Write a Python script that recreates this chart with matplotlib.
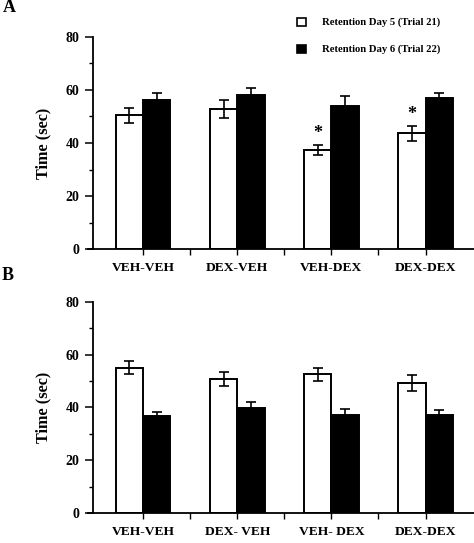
import matplotlib
matplotlib.use('Agg')
import matplotlib.pyplot as plt
import numpy as np

plt.rcParams['font.family'] = 'Liberation Serif'
plt.rcParams['font.weight'] = 'bold'

# data
groups_A = ['VEH-VEH', 'DEX-VEH', 'VEH-DEX', 'DEX-DEX']
groups_B = ['VEH-VEH', 'DEX- VEH', 'VEH- DEX', 'DEX-DEX']

day5_A = [50.5, 52.9, 37.3, 43.6]
day5_A_err = [2.8, 3.5, 1.9, 2.9]
day6_A = [56.2, 58.2, 54.1, 57.0]
day6_A_err = [2.6, 2.7, 3.5, 1.9]
star_A = [False, False, True, True]

day5_B = [55.0, 50.9, 52.5, 49.1]
day5_B_err = [2.4, 2.6, 2.3, 3.0]
day6_B = [36.8, 39.8, 37.3, 37.2]
day6_B_err = [1.6, 2.1, 2.0, 1.9]

legend_labels = ['Retention Day 5 (Trial 21)', 'Retention Day 6 (Trial 22)']

bar_w = 0.29
lw = 1.3


def draw_panel(ax, labels, v5, e5, v6, e6, stars=None):
    x = np.arange(len(labels))
    ax.bar(x - bar_w / 2, v5, bar_w, color='white', edgecolor='black', linewidth=1.4, zorder=2)
    ax.bar(x + bar_w / 2, v6, bar_w, color='black', edgecolor='black', linewidth=1.4, zorder=2)
    ax.errorbar(x - bar_w / 2, v5, yerr=e5, fmt='none', ecolor='black', elinewidth=1.2,
                capsize=3.5, capthick=1.2, zorder=3)
    ax.errorbar(x + bar_w / 2, v6, yerr=e6, fmt='none', ecolor='black', elinewidth=1.2,
                capsize=3.5, capthick=1.2, zorder=3)
    if stars is not None:
        for i in range(len(labels)):
            if stars[i]:
                ax.text(x[i] - bar_w / 2, v5[i] + e5[i] + 4.3, '*', ha='center', va='center',
                        fontsize=13, fontweight='bold')

    ax.set_xlim(-0.585, 3.51)
    ax.set_ylim(0, 80)
    ax.spines['top'].set_visible(False)
    ax.spines['right'].set_visible(False)
    ax.spines['left'].set_position(('data', -0.53))
    ax.spines['left'].set_linewidth(lw)
    ax.spines['bottom'].set_linewidth(lw)

    ax.set_yticks([0, 20, 40, 60, 80])
    ax.set_yticks([10, 30, 50, 70], minor=True)
    ax.tick_params(axis='y', which='major', length=6, width=1.1, labelsize=10, pad=4)
    ax.tick_params(axis='y', which='minor', length=3, width=1.0)

    ax.set_xticks([0.5, 1.5, 2.5])
    ax.set_xticklabels([])
    ax.set_xticks(x, minor=True)
    ax.set_xticklabels(labels, minor=True, fontsize=9.7, fontweight='bold')
    ax.tick_params(axis='x', which='major', length=4, width=1.0)
    ax.tick_params(axis='x', which='minor', length=4, width=1.0, pad=5)

    for t in ax.get_yticklabels():
        t.set_fontweight('bold')
    ax.set_ylabel('Time (sec)', fontsize=11.7, fontweight='bold', labelpad=10)


fig = plt.figure(figsize=(4.74, 5.43), dpi=100)

axA = fig.add_axes([0.1857, 0.5414, 0.8133, 0.3905])
draw_panel(axA, groups_A, day5_A, day5_A_err, day6_A, day6_A_err, star_A)

axB = fig.add_axes([0.1857, 0.0547, 0.8133, 0.3897])
draw_panel(axB, groups_B, day5_B, day5_B_err, day6_B, day6_B_err)

# legend drawn as squares + text
fig.patches.append(plt.Rectangle((297 / 474, 1 - 26 / 543), 9 / 474, 8 / 543, transform=fig.transFigure,
                                 facecolor='white', edgecolor='black', linewidth=1.2))
fig.patches.append(plt.Rectangle((297 / 474, 1 - 53 / 543), 9 / 474, 8 / 543, transform=fig.transFigure,
                                 facecolor='black', edgecolor='black', linewidth=1.2))
fig.text(322 / 474, 1 - 22 / 543, legend_labels[0], fontsize=7.7, fontweight='bold', va='center')
fig.text(322 / 474, 1 - 49 / 543, legend_labels[1], fontsize=7.7, fontweight='bold', va='center')

fig.text(9 / 474, 1 - 8 / 543, 'A', fontsize=13, fontweight='bold', ha='center', va='center')
fig.text(8 / 474, 1 - 276 / 543, 'B', fontsize=13, fontweight='bold', ha='center', va='center')

fig.savefig('out.png', dpi=100)
